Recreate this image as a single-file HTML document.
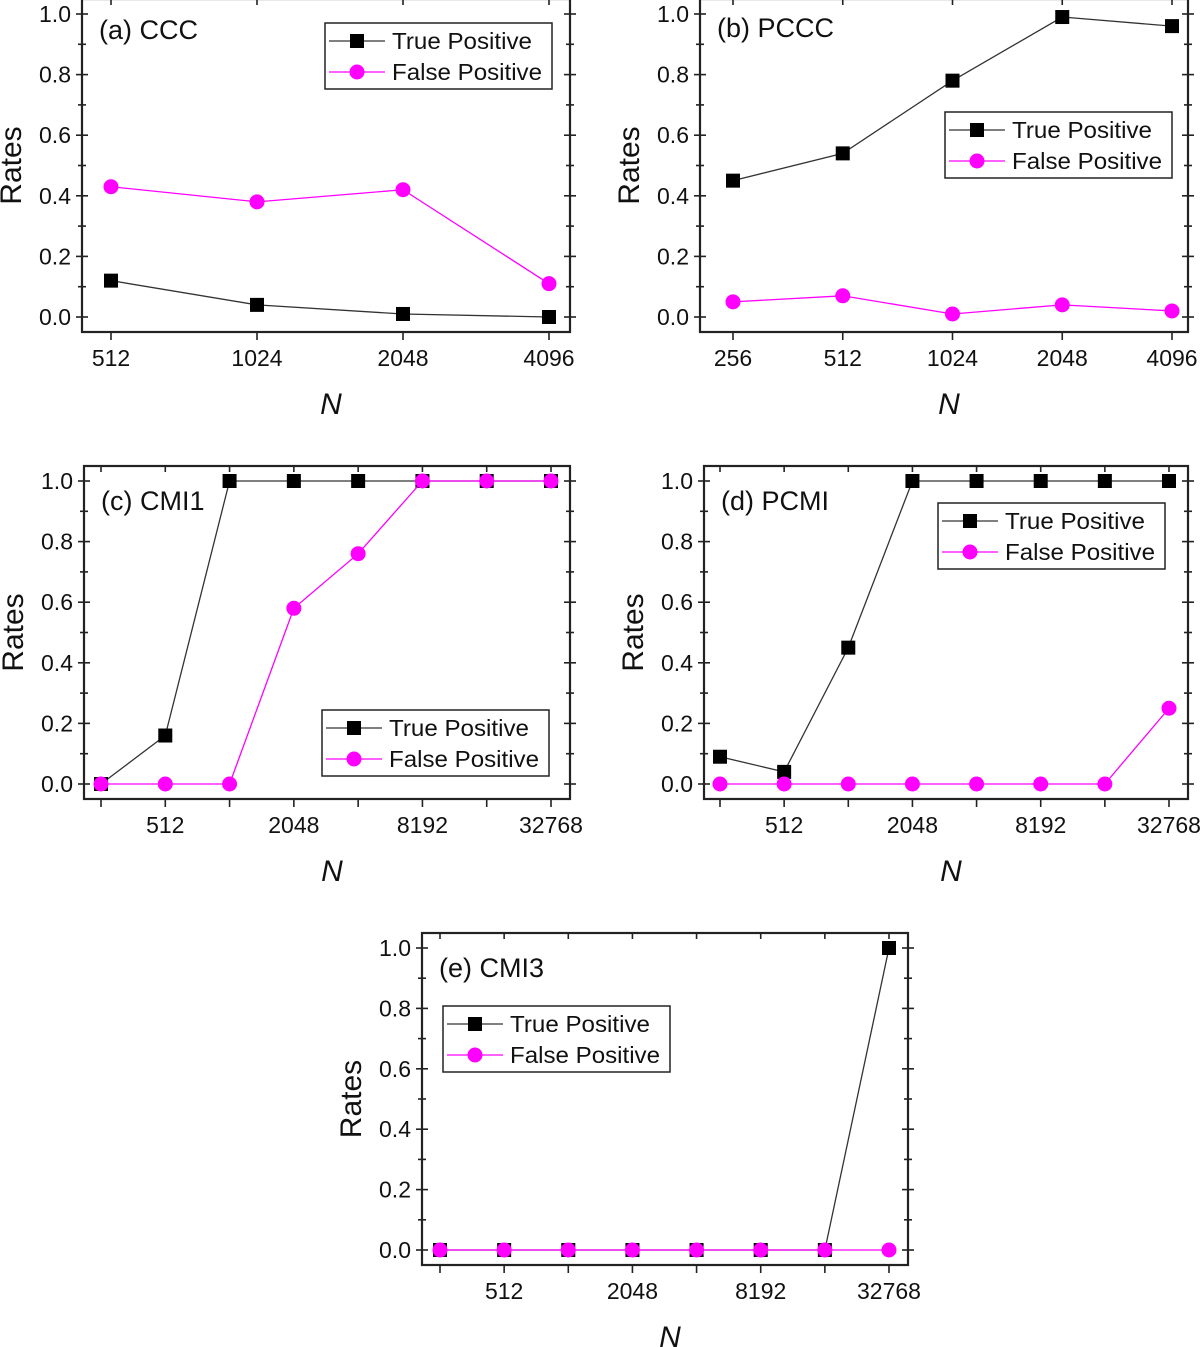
<!DOCTYPE html>
<html><head><meta charset="utf-8"><style>
html,body{margin:0;padding:0;background:#fff;}
svg{display:block;font-family:"Liberation Sans",Arial,sans-serif;}
</style></head><body>
<svg id="fig" width="1200" height="1347" viewBox="0 0 1200 1347"></svg>
<script>
const catsA = ["512","1024","2048","4096"];
const tpA = [0.12,0.04,0.01,0.0];
const fpA = [0.43,0.38,0.42,0.11];
const catsB = ["256","512","1024","2048","4096"];
const tpB = [0.45,0.54,0.78,0.99,0.96];
const fpB = [0.05,0.07,0.01,0.04,0.02];
const catsLong = ["256","512","1024","2048","4096","8192","16384","32768"];
const shownLong = ["","512","","2048","","8192","","32768"];
const tpC = [0,0.16,1,1,1,1,1,1];
const fpC = [0,0,0,0.58,0.76,1,1,1];
const tpD = [0.09,0.04,0.45,1,1,1,1,1];
const fpD = [0,0,0,0,0,0,0,0.25];
const tpE = [0,0,0,0,0,0,0,1];
const fpE = [0,0,0,0,0,0,0,0];
const yTicks = ["0.0","0.2","0.4","0.6","0.8","1.0"];

const NS="http://www.w3.org/2000/svg";
const svg=document.getElementById('fig');
function mk(tag,attrs,parent){const e=document.createElementNS(NS,tag);for(const k in attrs)e.setAttribute(k,attrs[k]);(parent||svg).appendChild(e);return e;}

function panel(cfg){
  const g=mk('g',{});
  
  
  const L=cfg.L,R=cfg.R,T=cfg.T,B=cfg.B;
  const y0=B-15, y1=T+15;
  const ys=v=>y0+(y1-y0)*v;
  const n=cfg.cats.length;
  const xs=i=>cfg.x0+(cfg.x1-cfg.x0)*i/(n-1);
  const fr=mk('rect',{x:L,y:T,width:R-L,height:B-T,fill:'none',stroke:'#222','stroke-width':2.2},g);
  
  
  for(let k=0;k<=10;k++){
    const v=k/10, y=ys(v), len=(k%2==0)?6:4;
    mk('line',{x1:L-len,x2:L+len,y1:y,y2:y,stroke:'#222','stroke-width':1.6},g);
    mk('line',{x1:R-len,x2:R+len,y1:y,y2:y,stroke:'#222','stroke-width':1.6},g);
  }
  yTicks.forEach((t,k)=>{
    const tx=mk('text',{x:L-11,y:ys(k*0.2)+8,'text-anchor':'end','font-size':23,fill:'#111'},g);
    tx.textContent=t;
    
    
  });
  for(let i=0;i<n;i++){
    const x=xs(i);
    mk('line',{x1:x,x2:x,y1:B,y2:B+8,stroke:'#222','stroke-width':1.6},g);
    mk('line',{x1:x,x2:x,y1:T,y2:T+6,stroke:'#222','stroke-width':1.6},g);
    const lab=cfg.labels[i];
    if(lab){
      const tx=mk('text',{x:x,y:B+34,'text-anchor':'middle','font-size':23,fill:'#111'},g);
      tx.textContent=lab;
      
      
    }
  }
  const yt=mk('text',{x:0,y:0,transform:`translate(${L-61},${(T+B)/2}) rotate(-90)`,'text-anchor':'middle','font-size':30,fill:'#111'},g);
  yt.textContent='Rates';
  
  
  const xt=mk('text',{x:(L+R)/2+5,y:B+82,'text-anchor':'middle','font-size':30,'font-style':'italic',fill:'#111'},g);
  xt.textContent='N';
  
  
  const pt=mk('text',{x:L+17,y:T+cfg.titleDy,'font-size':27,fill:'#111','xml:space':'preserve'},g);
  pt.textContent=cfg.title;
  
  
  const tpPts=cfg.tp.map((v,i)=>xs(i)+','+ys(v)).join(' ');
  const fpPts=cfg.fp.map((v,i)=>xs(i)+','+ys(v)).join(' ');
  const tl=mk('polyline',{points:tpPts,fill:'none',stroke:'#333','stroke-width':1.3},g);
  
  
  cfg.tp.forEach((v,i)=>{
    const r=mk('rect',{x:xs(i)-7,y:ys(v)-7,width:14,height:14,fill:'#000'},g);
    
    
  });
  const fl=mk('polyline',{points:fpPts,fill:'none',stroke:'#ff00ff','stroke-width':1.3},g);
  
  
  cfg.fp.forEach((v,i)=>{
    const c=mk('circle',{cx:xs(i),cy:ys(v),r:7.5,fill:'#ff00ff'},g);
    
    
  });
  const lx=cfg.lx, ly=cfg.ly;
  const lg=mk('g',{},g);
  
  
  mk('rect',{x:lx,y:ly,width:227,height:66,fill:'#fff',stroke:'#222','stroke-width':1.5},lg);
  mk('line',{x1:lx+4,x2:lx+60,y1:ly+18,y2:ly+18,stroke:'#333','stroke-width':1.3},lg);
  mk('rect',{x:lx+25,y:ly+11,width:14,height:14,fill:'#000'},lg);
  const t1=mk('text',{x:lx+67,y:ly+26,'font-size':23,fill:'#111',textLength:140,lengthAdjust:'spacingAndGlyphs'},lg);
  t1.textContent='True Positive';
  
  
  mk('line',{x1:lx+4,x2:lx+60,y1:ly+49,y2:ly+49,stroke:'#ff00ff','stroke-width':1.3},lg);
  mk('circle',{cx:lx+32,cy:ly+49,r:7.5,fill:'#ff00ff'},lg);
  const t2=mk('text',{x:lx+67,y:ly+57,'font-size':23,fill:'#111',textLength:150,lengthAdjust:'spacingAndGlyphs'},lg);
  t2.textContent='False Positive';
  
  
}

panel({id:'a',L:82,R:570,T:-1,B:332,x0:111,x1:549,cats:catsA,labels:catsA,tp:tpA,fp:fpA,title:'(a)  CCC',titleDy:40,lx:325,ly:23});
panel({id:'b',L:700,R:1188,T:-1,B:332,x0:733,x1:1172,cats:catsB,labels:catsB,tp:tpB,fp:fpB,title:'(b) PCCC',titleDy:38,lx:945,ly:112});
panel({id:'c',L:84,R:570,T:466,B:799,x0:101,x1:551,cats:catsLong,labels:shownLong,tp:tpC,fp:fpC,title:'(c) CMI1',titleDy:44,lx:322,ly:710});
panel({id:'d',L:704,R:1188,T:466,B:799,x0:720,x1:1169,cats:catsLong,labels:shownLong,tp:tpD,fp:fpD,title:'(d) PCMI',titleDy:44,lx:938,ly:503});
panel({id:'e',L:422,R:908,T:933,B:1265,x0:440,x1:889,cats:catsLong,labels:shownLong,tp:tpE,fp:fpE,title:'(e) CMI3',titleDy:44,lx:443,ly:1006});
</script>
</body></html>
